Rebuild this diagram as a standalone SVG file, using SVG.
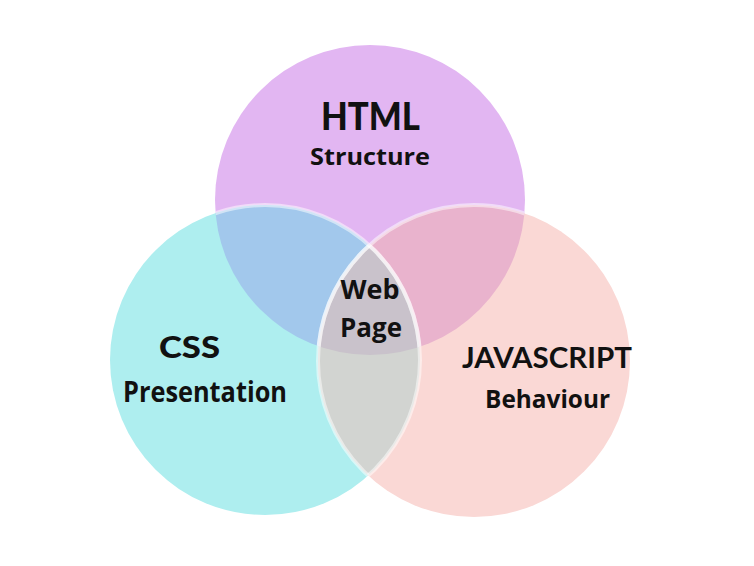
<svg xmlns="http://www.w3.org/2000/svg" width="754" height="566" viewBox="0 0 754 566">
<style>
.t{fill:#111;text-anchor:middle}
.h{font-family:Lato,"Open Sans",sans-serif;font-weight:900}
.s{font-family:"Open Sans","Noto Sans",sans-serif;font-weight:700}
.j{font-family:Lato,"Open Sans",sans-serif;font-weight:700}
.edge{fill:none;stroke:#ffffff;stroke-opacity:0.5;stroke-width:4}
</style>
<defs>
<clipPath id="cHtml"><circle cx="370" cy="200" r="155"/></clipPath>
<clipPath id="cCss"><circle cx="265" cy="360" r="155"/></clipPath>
<clipPath id="cJs"><circle cx="474" cy="361" r="156"/></clipPath>
</defs>
<rect width="754" height="566" fill="#ffffff"/>
<g id="html">
<circle cx="370" cy="200" r="155" fill="#e2b6f2"/>
</g>
<g id="css">
<circle cx="265" cy="360" r="155" fill="#aeeeef"/>
</g>
<g id="javascript">
<circle cx="474" cy="361" r="156" fill="#fad8d5"/>
</g>
<g id="overlaps">
<g clip-path="url(#cHtml)"><circle cx="265" cy="360" r="155" fill="#a2c8ec"/></g>
<g clip-path="url(#cHtml)"><circle cx="474" cy="361" r="156" fill="#e9b3cd"/></g>
<g clip-path="url(#cCss)"><circle cx="474" cy="361" r="156" fill="#d2d4d1"/></g>
<g clip-path="url(#cHtml)"><g clip-path="url(#cCss)"><circle cx="474" cy="361" r="156" fill="#c9c2cb"/></g></g>
</g>
<g id="connectors">
<g clip-path="url(#cHtml)"><circle class="edge" cx="265" cy="360" r="155"/><circle class="edge" cx="474" cy="361" r="156"/></g>
<g clip-path="url(#cJs)"><circle class="edge" cx="265" cy="360" r="155"/></g>
<g clip-path="url(#cCss)"><circle class="edge" cx="474" cy="361" r="156"/></g>
</g>
<g id="labels">
<text class="t h" x="370.5" y="130" font-size="38" textLength="99" lengthAdjust="spacingAndGlyphs">HTML</text>
<text class="t s" x="370" y="165" font-size="23" textLength="120" lengthAdjust="spacingAndGlyphs">Structure</text>
<text class="t s" x="370" y="299" font-size="26" textLength="59" lengthAdjust="spacingAndGlyphs">Web</text>
<text class="t s" x="371" y="337" font-size="26" textLength="62" lengthAdjust="spacingAndGlyphs">Page</text>
<text class="t h" x="189.5" y="358" font-size="31" textLength="61" lengthAdjust="spacingAndGlyphs">CSS</text>
<text class="t s" x="205" y="402" font-size="28" textLength="164" lengthAdjust="spacingAndGlyphs">Presentation</text>
<text class="t j" x="547" y="368" font-size="29" textLength="170" lengthAdjust="spacingAndGlyphs">JAVASCRIPT</text>
<text class="t s" x="547.5" y="408" font-size="25" textLength="125" lengthAdjust="spacingAndGlyphs">Behaviour</text>
</g>
</svg>
